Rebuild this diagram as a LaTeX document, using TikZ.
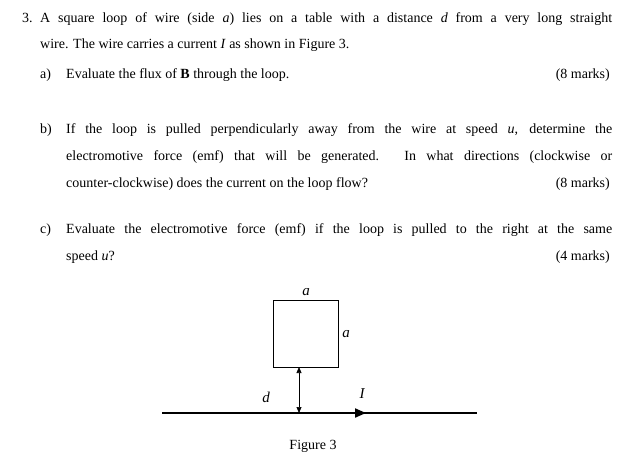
\documentclass[tikz,border=0pt]{standalone}
\usepackage{fontspec}
\setmainfont{Liberation Serif}
\usetikzlibrary{arrows.meta}
\begin{document}
\begin{tikzpicture}[x=1pt,y=-1pt,
  txt/.style={anchor=base west,inner sep=0pt,font=\fontsize{14}{16}\selectfont},
  lbl/.style={inner sep=0pt,font=\fontsize{15}{17}\selectfont\itshape}]
\useasboundingbox (0,0) rectangle (634,466);
\node[txt] (n3) at (22,22) {3.};
\node[txt] (l1) at (40,22) {\makebox[572pt][s]{A square loop of wire (side \textit{a}) lies on a table with a distance \textit{d} from a very long straight}};
\node[txt] (l2) at (40,48) {wire. The wire carries a current \textit{I} as shown in Figure 3.};
\node[txt] (a1) at (40,78) {a)};
\node[txt] (a2) at (66,78) {Evaluate the flux of \textbf{B} through the loop.};
\node[txt,anchor=base east] (a3) at (610,78) {(8 marks)};
\node[txt] (b1) at (40,133) {b)};
\node[txt] (b2) at (66,133) {\makebox[546pt][s]{If the loop is pulled perpendicularly away from the wire at speed \textit{u}, determine the}};
\node[txt] (b3) at (66,160) {\makebox[546pt][s]{electromotive force (emf) that will be generated. In what directions (clockwise or}};
\node[txt] (b4) at (66,187) {counter-clockwise) does the current on the loop flow?};
\node[txt,anchor=base east] (b5) at (610,187) {(8 marks)};
\node[txt] (c1) at (40,233) {c)};
\node[txt] (c2) at (66,233) {\makebox[546pt][s]{Evaluate the electromotive force (emf) if the loop is pulled to the right at the same}};
\node[txt] (c3) at (66,260) {speed \textit{u}?};
\node[txt,anchor=base east] (c4) at (610,260) {(4 marks)};
% figure
\draw[line width=0.8pt] (273,300) rectangle (338,367);
\coordinate (sq) at (299,367);
\coordinate (wl) at (162,413);
\coordinate (wr) at (477,413);
\coordinate (wd) at (299,413);
\draw[line width=2pt] (wl) -- (wr);
\draw[line width=2pt,-{Triangle[length=11pt,width=9pt]}] (wl) -- (366,413);
\draw[line width=0.7pt,{Triangle[length=6pt,width=5pt]}-{Triangle[length=6pt,width=5pt]}] (sq) -- (wd);
\node[lbl] (ta) at (306,292) {a};
\node[lbl] (ra) at (346,334) {a};
\node[lbl] (dl) at (266,397) {d};
\node[lbl] (il) at (362,394) {I};
\node[txt,anchor=center] (fig) at (313,446) {Figure 3};
\end{tikzpicture}
\end{document}
